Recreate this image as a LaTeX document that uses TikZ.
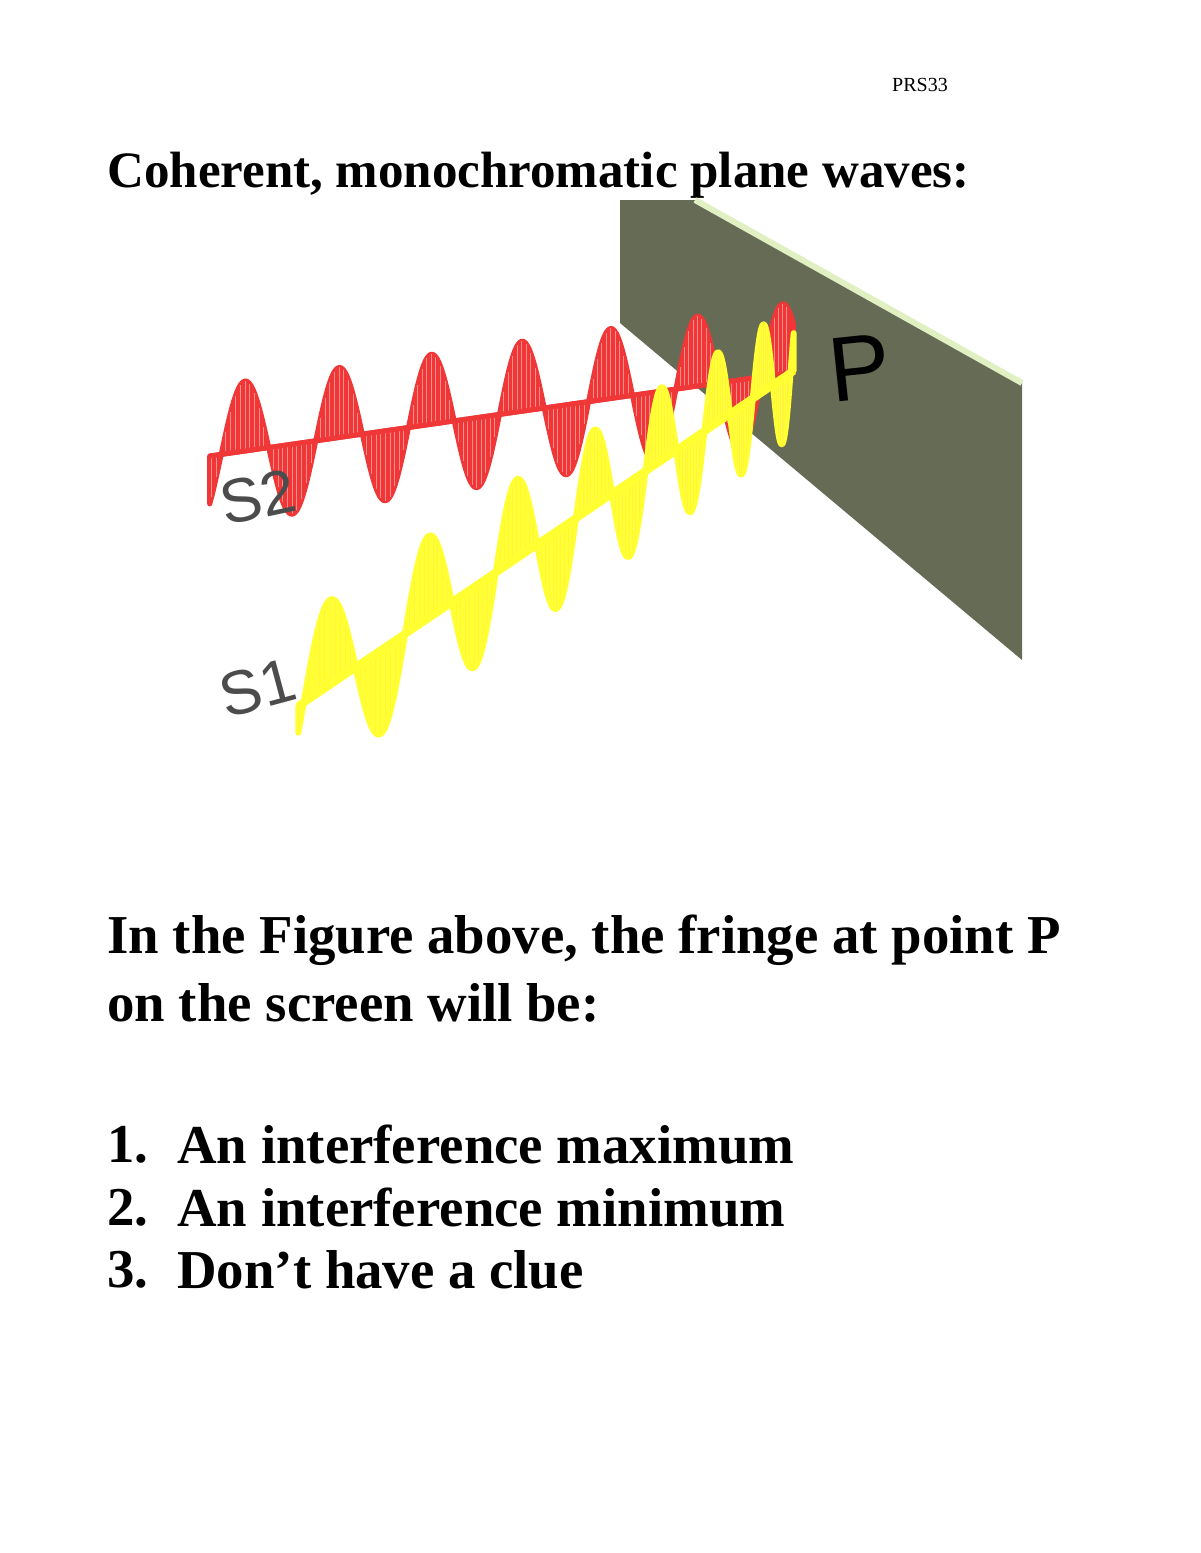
\documentclass[tikz,border=0pt]{standalone}
\usepackage{fontspec}
\setmainfont{Liberation Serif}
\newfontfamily\arialf{Liberation Sans}
\begin{document}
\begin{tikzpicture}[x=0.5pt,y=-0.5pt,
  lbl/.style={font=\arialf\fontsize{31}{31}\selectfont, text=black!70, inner sep=0},
  qtext/.style={font=\bfseries\fontsize{27.4}{32}\selectfont, anchor=west, inner sep=0},
  redc/.style={fill={rgb,255:red,240;green,55;blue,55},draw={rgb,255:red,240;green,55;blue,55}},
  yelc/.style={fill={rgb,255:red,255;green,255;blue,50},draw={rgb,255:red,255;green,255;blue,50}},
  declare function={
    xr(\u)=245+95*\u-0.9*\u*\u;
    ar(\u)=456-(xr(\u)-210)*0.1436;
    yr(\u)=ar(\u)-70*cos(360*\u);
    xy(\u)=330+104*\u-5.3*\u*\u;
    ay(\u)=705-(xy(\u)-300)*0.677;
    yy(\u)=ay(\u)-(85-3*\u)*cos(360*\u);
  }]
\useasboundingbox (0,0) rectangle (1200,1553);
\fill[white] (0,0) rectangle (1200,1553);
\node[font=\fontsize{10}{12}\selectfont] (prs) at (920,85) {PRS33};
\node[font=\bfseries\fontsize{25.5}{30}\selectfont, anchor=west, inner sep=0] (title) at (107,175) {Coherent, monochromatic plane waves:};
% screen
\fill[fill={rgb,255:red,102;green,107;blue,85}] (620,200) -- (695,200) -- (1022,383) -- (1022,660) -- (620,323) -- cycle;
\draw[line width=3pt, draw={rgb,255:red,225;green,240;blue,195}] (695,200) -- (1022,383);
% red wave
\filldraw[redc, line width=2.5pt, line join=round] plot[domain=-0.37:6.13,samples=300,smooth] ({xr(\x)},{yr(\x)}) -- plot[domain=6.13:-0.37,samples=2] ({xr(\x)},{ar(\x)}) -- cycle;
\foreach \u in {-0.35,-0.3,...,6.1}{\draw[line width=0.5pt, white!55!red] ({xr(\u)},{ar(\u)}) -- ({xr(\u)},{yr(\u)});}
\draw[redc, line width=2.5pt] plot[domain=-0.37:6.13,samples=2] ({xr(\x)},{ar(\x)});
% yellow wave
\filldraw[yelc, line width=3pt, line join=round] plot[domain=-0.3:6.85,samples=300,smooth] ({xy(\x)},{yy(\x)}) -- plot[domain=6.85:-0.3,samples=2] ({xy(\x)},{ay(\x)}) -- cycle;
\foreach \u in {-0.3,-0.25,...,6.8}{\draw[line width=0.5pt, yellow!75!white] ({xy(\u)},{ay(\u)}) -- ({xy(\u)},{yy(\u)});}
\draw[yelc, line width=4pt] plot[domain=-0.3:6.85,samples=2] ({xy(\x)},{ay(\x)});
% labels
\node[lbl, rotate=12] (s2) at (258,497) {S2};
\node[lbl, rotate=15] (s1) at (258,688) {S1};
\node[font=\arialf\fontsize{46}{46}\selectfont, rotate=6, inner sep=0] (p) at (860,368) {P};
% question
\node[qtext] (q1) at (107,940) {In the Figure above, the fringe at point P};
\node[qtext] (q2) at (107,1003) {on the screen will be:};
\node[qtext] (n1) at (107,1145) {1.};
\node[qtext] (a1) at (177,1145) {An interference maximum};
\node[qtext] (n2) at (107,1208) {2.};
\node[qtext] (a2) at (177,1208) {An interference minimum};
\node[qtext] (n3) at (107,1270) {3.};
\node[qtext] (a3) at (177,1270) {Don’t have a clue};
\end{tikzpicture}
\end{document}
